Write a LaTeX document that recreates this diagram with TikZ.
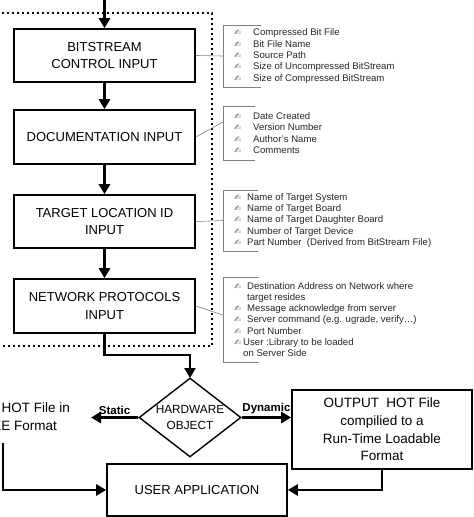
\documentclass[tikz,border=0pt]{standalone}
\usepackage{fontspec}
\setmainfont{Liberation Sans}
\newfontfamily\penfont{DejaVu Sans}
\usepackage{xcolor}
\usepackage{tikz}
\usetikzlibrary{positioning}
\usetikzlibrary{shapes.geometric}
\usetikzlibrary{arrows.meta}

\newcommand{\pen}[1]{\makebox[#1][l]{\penfont\fontsize{8.5}{8.5}\selectfont\textcolor{black!60}{✍}}}

\begin{document}
\begin{tikzpicture}[x=1pt, y=-1pt,
  box/.style={draw, line width=1.6pt, align=center, minimum width=181pt, minimum height=53pt, inner sep=0pt, font=\fontsize{13}{17.7}\selectfont},
  flow/.style={line width=2.6pt, -{Triangle[length=10pt,width=11pt]}},
  note/.style={anchor=west, align=left, inner xsep=11pt, inner ysep=0pt, font=\fontsize{9.6}{11.3}\selectfont, text=black!85},
  brk/.style={gray, line width=0.6pt},
  lbl/.style={font=\bfseries\fontsize{11.5}{13}\selectfont, inner sep=2pt}]

\useasboundingbox (0,0) rectangle (474,517);

% dotted frame
\draw[line width=1.8pt, dash pattern=on 2pt off 3pt] (-3,13)--(212,13)--(212,346)--(-3,346);

% input boxes
\node[box] (bits) at (104.5,55.5) {BITSTREAM\\CONTROL INPUT};
\node[box, minimum height=54pt] (docu) at (104.5,137) {DOCUMENTATION INPUT};
\node[box] (target) at (104.5,221.5) {TARGET LOCATION ID\\INPUT};
\node[box, minimum height=54pt] (network) at (104.5,306) {NETWORK PROTOCOLS\\INPUT};

\coordinate (top) at (104.5,-2);
\coordinate (bend) at (190,355);

\draw[flow] (top) -- (bits.north);
\draw[flow] (bits.south) -- (docu.north);
\draw[flow] (docu.south) -- (target.north);
\draw[flow] (target.south) -- (network.north);
\draw[flow] (network.south) |- (bend) -- ++(0,23);

% decision
\node[diamond, draw, line width=1.4pt, minimum width=102pt, minimum height=79pt, inner sep=-6pt, align=center, font=\fontsize{11.8}{16}\selectfont] (hw) at (190,417.5) {HARDWARE\\OBJECT};

\node[box, minimum width=180pt, minimum height=79pt, font=\fontsize{13.5}{17.7}\selectfont] (out) at (382,429.5) {OUTPUT\ \ HOT File\\compilied to a\\Run-Time Loadable\\Format};
\node[box, minimum width=180pt, minimum height=52pt] (user) at (197,490) {USER APPLICATION};
\node[anchor=north east, align=right, inner sep=0pt, font=\fontsize{13.5}{17.7}\selectfont] (hotexe) at (70,403) {HOT File in\\EXE Format\hspace*{13pt}};

\coordinate (statend) at (91,417.5);
\coordinate (exeout) at (3,443);

\draw[flow] (hw.west) -- node[lbl, midway, above] (static) {Static} (statend);
\draw[flow] (hw.east) -- node[lbl, midway, above] (dynamic) {Dynamic} (hw.east -| out.west);
\draw[flow] (exeout) |- (user.west);
\draw[flow] (out.south) |- (user.east);

% notes
\node[note, minimum height=62pt] (n1) at (223,56)
{\pen{19pt}Compressed Bit File\\
\pen{19pt}Bit File Name\\
\pen{19pt}Source Path\\
\pen{19pt}Size of Uncompressed BitStream\\
\pen{19pt}Size of Compressed BitStream};

\node[note, minimum height=54pt] (n2) at (223,133)
{\pen{19pt}Date Created\\
\pen{19pt}Version Number\\
\pen{19pt}Author's Name\\
\pen{19pt}Comments};

\node[note, minimum height=61pt] (n3) at (223,220.5)
{\pen{13pt}Name of Target System\\
\pen{13pt}Name of Target Board\\
\pen{13pt}Name of Target Daughter Board\\
\pen{13pt}Number of Target Device\\
\pen{13pt}Part Number\ \ (Derived from BitStream File)};

\node[note, minimum height=85pt] (n4) at (223,319.5)
{\pen{13pt}Destination Address on Network where\\
\hspace*{13pt}target resides\\
\pen{13pt}Message acknowledge from server\\
\pen{13pt}Server command (e.g. ugrade, verify…)\\
\pen{13pt}Port Number\\
\pen{9pt}User :Library to be loaded\\
\hspace*{9pt}on Server Side};

\draw[brk] ([xshift=38pt]n1.north west) -- (n1.north west) -- (n1.south west) -- ([xshift=38pt]n1.south west);
\draw[brk] ([xshift=32pt]n2.north west) -- (n2.north west) -- (n2.south west) -- ([xshift=32pt]n2.south west);
\draw[brk] ([xshift=35pt]n3.north west) -- (n3.north west) -- (n3.south west) -- ([xshift=35pt]n3.south west);
\draw[brk] ([xshift=36pt]n4.north west) -- (n4.north west) -- (n4.south west) -- ([xshift=36pt]n4.south west);

\draw[brk] (bits.east) -- (n1.west);
\draw[brk] (docu.east) -- ([yshift=11pt]n2.west);
\draw[brk] (target.east) -- (n3.west);
\draw[brk] (network.east) -- ([yshift=4.5pt]n4.west);

\end{tikzpicture}
\end{document}
